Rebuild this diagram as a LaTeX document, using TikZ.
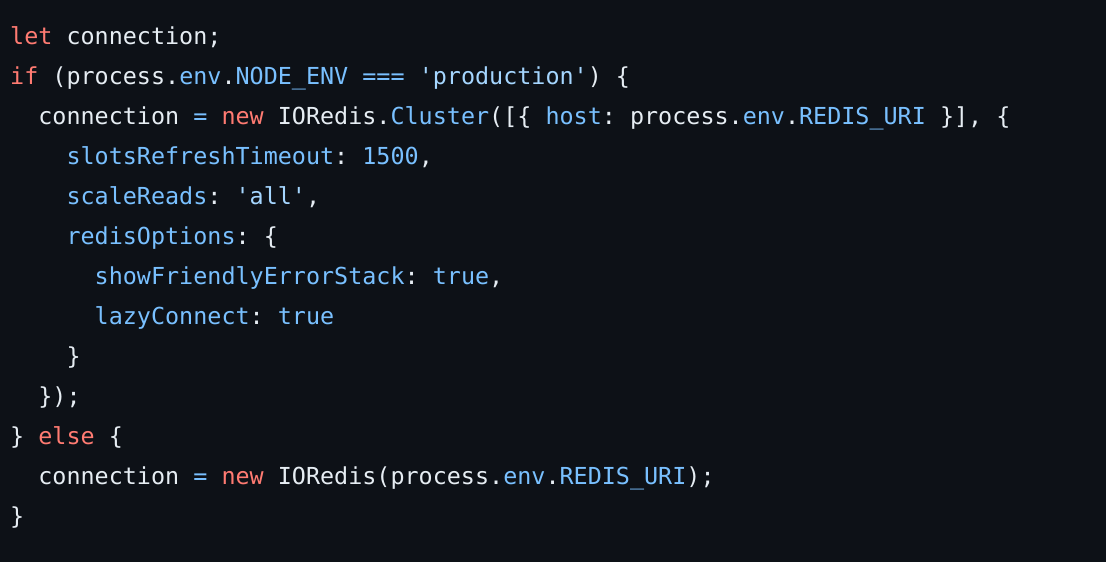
\documentclass[tikz,border=0pt]{standalone}
\usepackage{fontspec}
\setmonofont{DejaVu Sans Mono}
\definecolor{bg}{HTML}{0D1117}
\definecolor{tx}{HTML}{E6EDF3}
\definecolor{kw}{HTML}{FF7B72}
\definecolor{cn}{HTML}{79C0FF}
\definecolor{st}{HTML}{A5D6FF}
\newcommand{\Kw}[1]{\textcolor{kw}{#1}}
\newcommand{\Cn}[1]{\textcolor{cn}{#1}}
\newcommand{\St}[1]{\textcolor{st}{#1}}
\tikzset{codeline/.style={anchor=base west,inner sep=0pt,text=tx,font=\ttfamily\fontsize{23.4pt}{26pt}\selectfont}}
\begin{document}
\begin{tikzpicture}[x=1pt,y=1pt]
\fill[bg] (0,0) rectangle (1106,562);
\useasboundingbox (0,0) rectangle (1106,562);
\node[codeline] (l1) at (10,517) {\Kw{let} connection;};
\node[codeline] (l2) at (10,477) {\Kw{if} (process.\Cn{env}.\Cn{NODE\_ENV} \Cn{===} \St{'production'}) \{};
\node[codeline] (l3) at (10,437) {\ \ connection \Cn{=} \Kw{new} IORedis.\Cn{Cluster}([\{ \Cn{host}: process.\Cn{env}.\Cn{REDIS\_URI} \}], \{};
\node[codeline] (l4) at (10,397) {\ \ \ \ \Cn{slotsRefreshTimeout}: \Cn{1500},};
\node[codeline] (l5) at (10,357) {\ \ \ \ \Cn{scaleReads}: \St{'all'},};
\node[codeline] (l6) at (10,317) {\ \ \ \ \Cn{redisOptions}: \{};
\node[codeline] (l7) at (10,277) {\ \ \ \ \ \ \Cn{showFriendlyErrorStack}: \Cn{true},};
\node[codeline] (l8) at (10,237) {\ \ \ \ \ \ \Cn{lazyConnect}: \Cn{true}};
\node[codeline] (l9) at (10,197) {\ \ \ \ \}};
\node[codeline] (l10) at (10,157) {\ \ \});};
\node[codeline] (l11) at (10,117) {\} \Kw{else} \{};
\node[codeline] (l12) at (10,77) {\ \ connection \Cn{=} \Kw{new} IORedis(process.\Cn{env}.\Cn{REDIS\_URI});};
\node[codeline] (l13) at (10,37) {\}};
\end{tikzpicture}
\end{document}
